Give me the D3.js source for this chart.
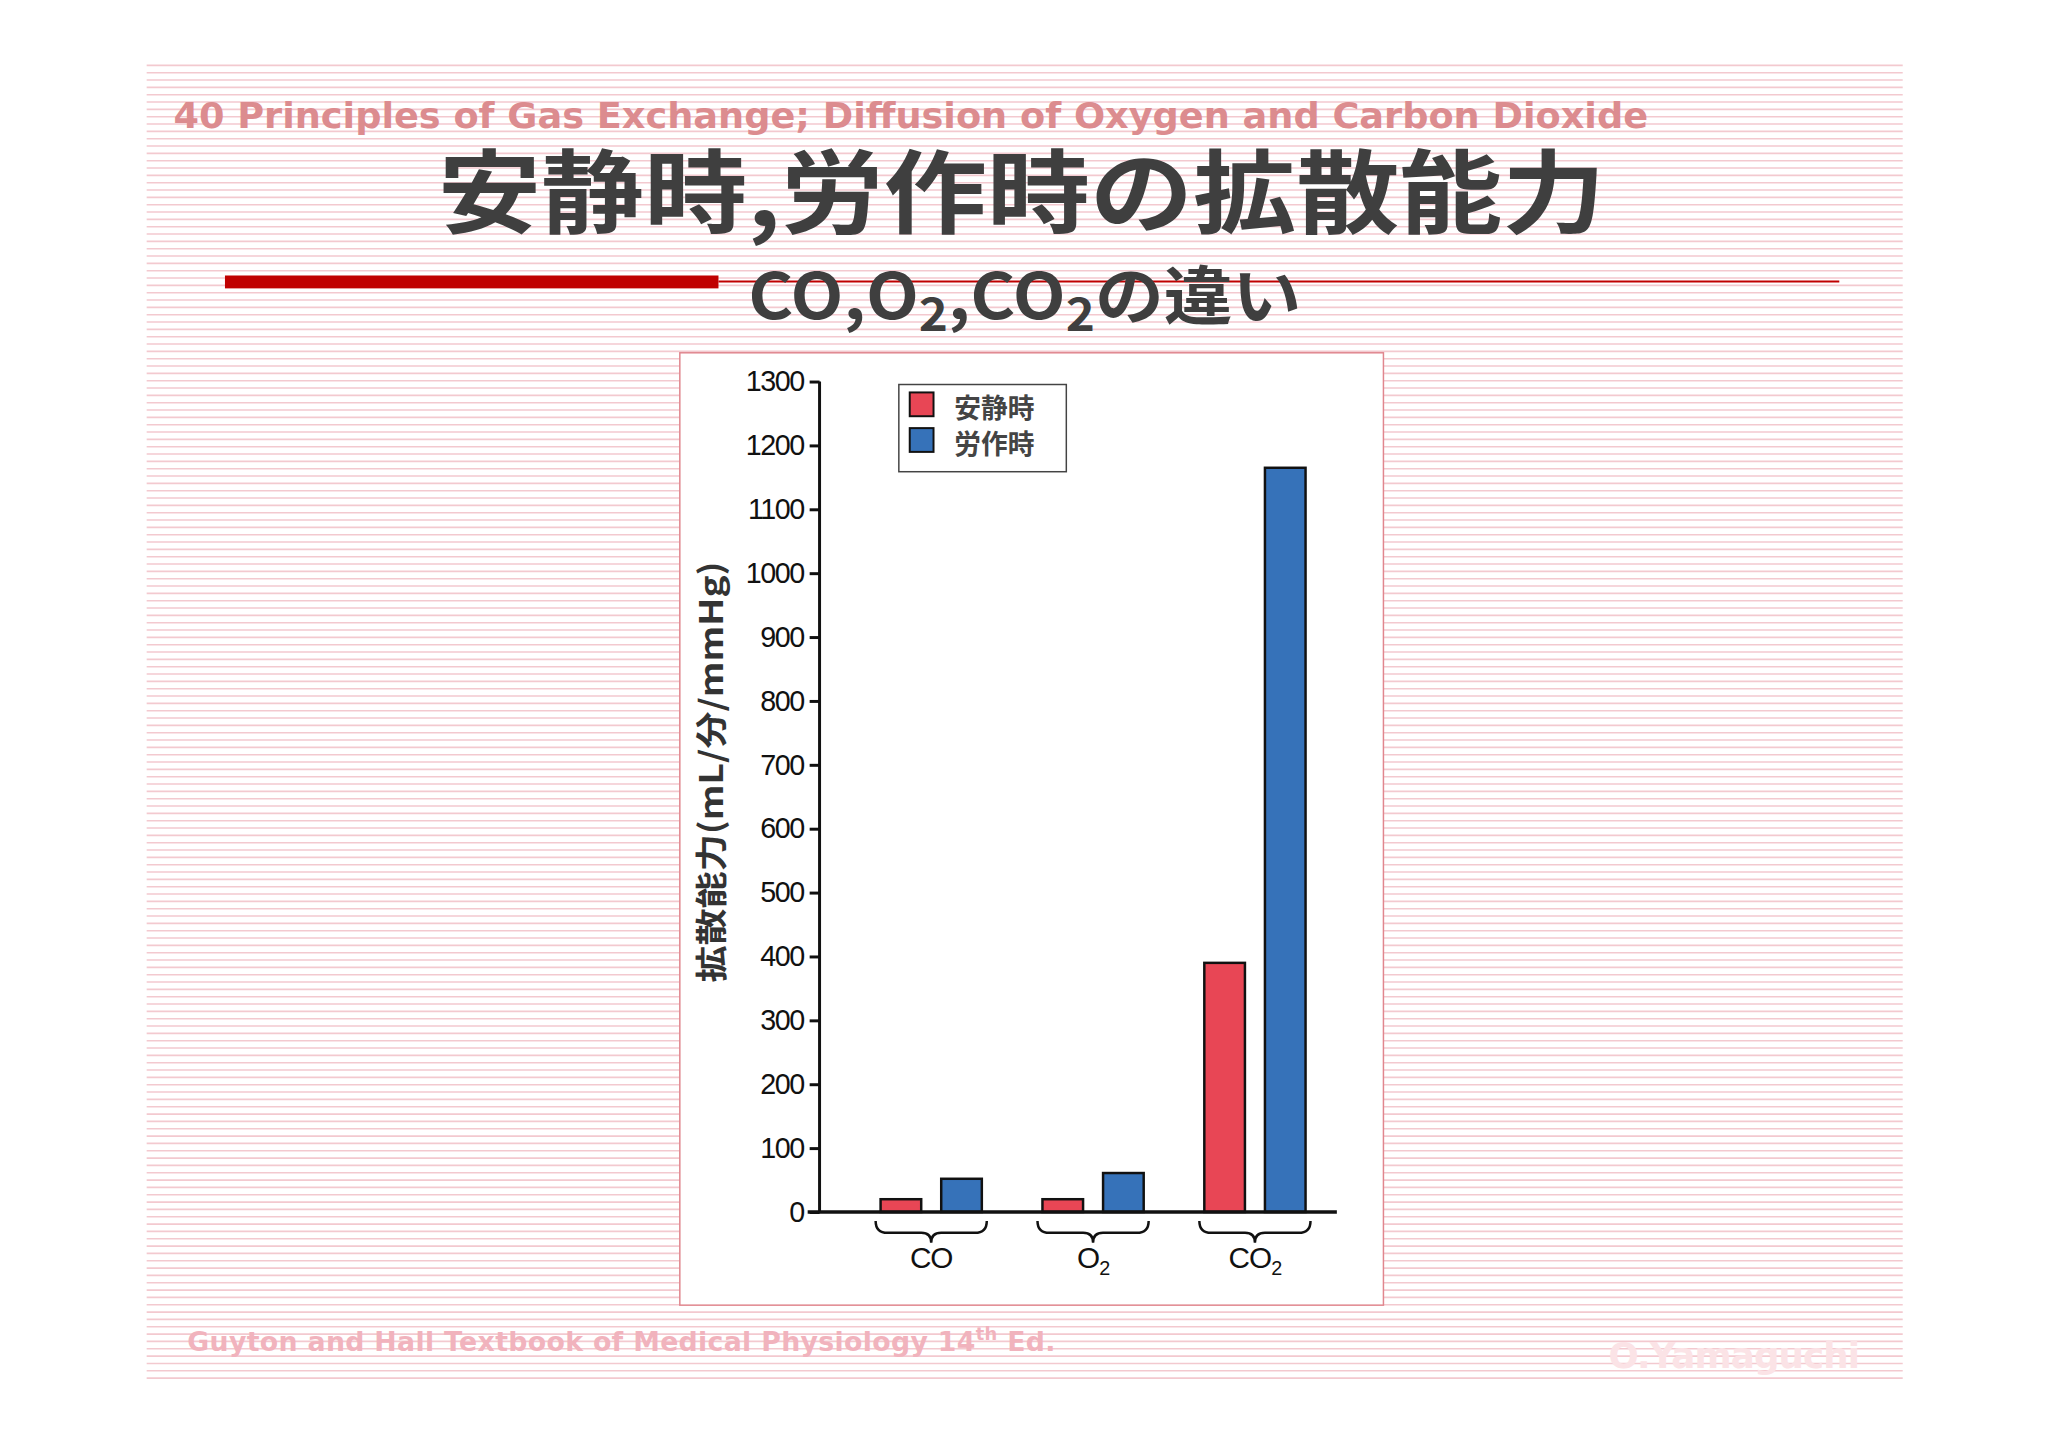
<!DOCTYPE html>
<html><head><meta charset="utf-8">
<script src="https://cdn.jsdelivr.net/npm/d3@7"></script>
<style>body{margin:0;background:#fff}svg{display:block}</style></head>
<body><svg id="c" width="2048" height="1448"></svg>
<script>
const categories = ["CO","O₂","CO₂"];
const seriesNames = ["安静時","労作時"];
const restValues = [20, 20, 390];
const exerciseValues = [52, 61, 1165];
const yTicks = [0,100,200,300,400,500,600,700,800,900,1000,1100,1200,1300];
const colors = ["#e84655","#3672b9"];

const svg = d3.select("#c").append("g").attr("transform","scale(0.991)");
const stripeYs = d3.range(66, 1392, 7.4);
svg.append("g").selectAll("line").data(stripeYs).join("line")
  .attr("x1",148).attr("x2",1920).attr("y1",d=>d).attr("y2",d=>d)
  .attr("stroke","#f3c9cf").attr("stroke-width",1.6);

svg.append("text").attr("x",175).attr("y",129).attr("font-family","DejaVu Sans")
  .attr("font-weight","bold").attr("font-size",35).attr("fill","#dc8c8f")
  .attr("textLength",1488).attr("lengthAdjust","spacingAndGlyphs")
  .text("40 Principles of Gas Exchange; Diffusion of Oxygen and Carbon Dioxide");
svg.append("text").attr("x",1031).attr("y",228).attr("text-anchor","middle")
  .attr("font-family","Noto Sans CJK JP").attr("font-weight","bold").attr("font-size",92)
  .attr("fill","#3f3f3f").attr("textLength",1178).attr("lengthAdjust","spacingAndGlyphs")
  .text("安静時,労作時の拡散能力");
svg.append("line").attr("x1",725).attr("x2",1856).attr("y1",284).attr("y2",284).attr("stroke","#c00000").attr("stroke-width",2);
svg.append("rect").attr("x",227).attr("y",278).attr("width",498).attr("height",13).attr("fill","#c00000");
const sub = svg.append("text").attr("x",755).attr("y",322).attr("font-family","Noto Sans CJK JP")
  .attr("font-weight","bold").attr("font-size",64).attr("fill","#3f3f3f")
  .attr("textLength",558).attr("lengthAdjust","spacingAndGlyphs");
sub.append("tspan").text("CO,O");
sub.append("tspan").attr("font-size",46).attr("dy",12).text("2");
sub.append("tspan").attr("dy",-12).text(",CO");
sub.append("tspan").attr("font-size",46).attr("dy",12).text("2");
sub.append("tspan").attr("dy",-12).text("の違い");

svg.append("rect").attr("x",686).attr("y",356).attr("width",710).attr("height",961)
  .attr("fill","#fff").attr("stroke","#e0868e").attr("stroke-width",1.5);

const y = d3.scaleLinear().domain([0,1300]).range([1223,385]);
const x0 = d3.scaleBand().domain(categories).range([858,1348]);
const x1 = d3.scaleBand().domain([0,1]).range([0,x0.bandwidth()]).paddingInner(0.33).paddingOuter(0.5);

const g = svg.append("g");
categories.forEach((c,i)=>{
  [restValues[i],exerciseValues[i]].forEach((v,j)=>{
    g.append("rect").attr("x",x0(c)+x1(j)).attr("width",x1.bandwidth())
      .attr("y",y(v)).attr("height",y(0)-y(v))
      .attr("fill",colors[j]).attr("stroke","#111").attr("stroke-width",2.5);
  });
  const L=x0(c)+x1(0)-5, R=x0(c)+x1(1)+x1.bandwidth()+5, M=(L+R)/2, t=1232;
  g.append("path").attr("d",`M${L},${t} Q${L},${t+12} ${L+12},${t+12} L${M-10},${t+12} Q${M},${t+12} ${M},${t+22} Q${M},${t+12} ${M+10},${t+12} L${R-12},${t+12} Q${R},${t+12} ${R},${t}`)
    .attr("fill","none").attr("stroke","#111").attr("stroke-width",2.5);
  const tx = g.append("text").attr("x",M).attr("y",1280).attr("text-anchor","middle")
    .attr("font-family","Liberation Sans").attr("font-size",30).attr("fill","#111").attr("letter-spacing",-1);
  tx.append("tspan").text(c.replace("₂",""));
  if(c.includes("₂")) tx.append("tspan").attr("font-size",20).attr("dy",7).text("2");
});

const yAxis = svg.append("g").attr("transform","translate(827,0)")
  .call(d3.axisLeft(y).tickValues(yTicks).tickFormat(d3.format("d")).tickSize(10).tickPadding(6));
yAxis.select(".domain").attr("stroke","#111").attr("stroke-width",3).attr("d","M0,385V1223");
yAxis.selectAll(".tick line").attr("stroke","#111").attr("stroke-width",3);
yAxis.selectAll("text").attr("font-family","Liberation Sans").attr("font-size",29)
  .attr("fill","#111").attr("letter-spacing",-1.5);
svg.append("line").attr("x1",815).attr("x2",1349).attr("y1",1223).attr("y2",1223).attr("stroke","#111").attr("stroke-width",3.5);

svg.append("text").attr("transform","translate(730,779) rotate(-90)").attr("text-anchor","middle")
  .attr("font-family","Noto Sans CJK JP").attr("font-weight","bold").attr("font-size",32).attr("fill","#333")
  .attr("textLength",425).attr("lengthAdjust","spacingAndGlyphs")
  .text("拡散能力(mL/分/mmHg)");

const lg = svg.append("g");
lg.append("rect").attr("x",907).attr("y",388).attr("width",169).attr("height",88).attr("fill","#fff").attr("stroke","#444").attr("stroke-width",1.5);
seriesNames.forEach((n,i)=>{
  lg.append("rect").attr("x",918).attr("y",396+i*36).attr("width",24).attr("height",24)
    .attr("fill",colors[i]).attr("stroke","#111").attr("stroke-width",2);
  lg.append("text").attr("x",963).attr("y",422+i*36).attr("font-family","Noto Sans CJK JP")
    .attr("font-weight","bold").attr("font-size",27).attr("fill","#444").text(n);
});

const f = svg.append("text").attr("x",189).attr("y",1363).attr("font-family","DejaVu Sans").attr("font-weight","bold")
  .attr("font-size",27).attr("fill","#f1b3bd").attr("textLength",876);
f.append("tspan").text("Guyton and Hall Textbook of Medical Physiology 14");
f.append("tspan").attr("font-size",18).attr("dy",-11).text("th");
f.append("tspan").attr("dy",11).text(" Ed.");
svg.append("text").attr("x",1623).attr("y",1380).attr("font-family","DejaVu Sans").attr("font-weight","bold")
  .attr("font-size",36).attr("fill","#fbe3e6").attr("textLength",254).text("O.Yamaguchi");
</script></body></html>
